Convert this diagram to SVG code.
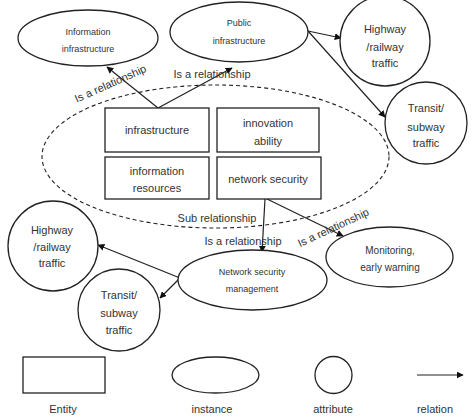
<svg xmlns="http://www.w3.org/2000/svg" width="474" height="420" viewBox="0 0 474 420">
<defs>
<marker id="ah" viewBox="0 0 10 10" refX="9" refY="5" markerWidth="7" markerHeight="7" markerUnits="userSpaceOnUse" orient="auto">
<path d="M0,0 L10,5 L0,10 z" fill="#111"/>
</marker>
<style>
.s{fill:#fff;stroke:#222;stroke-width:1.3}
.d{fill:none;stroke:#222;stroke-width:1.1;stroke-dasharray:4,3}
.c{stroke:#222;stroke-width:1.2;fill:none;marker-end:url(#ah)}
text{font-family:"Liberation Sans","DejaVu Sans",sans-serif;fill:#333;text-anchor:middle}
.t9{font-size:9px}
.t10{font-size:10px}
.t11{font-size:11px}
</style>
</defs>
<rect width="474" height="420" fill="#fff"/>
<ellipse class="d" cx="215.5" cy="156.5" rx="173.5" ry="71.5"/>
<g id="connectors">
<line class="c" x1="158" y1="108" x2="107" y2="67"/>
<line class="c" x1="158" y1="108" x2="232" y2="68"/>
<line class="c" x1="308" y1="31" x2="341" y2="38"/>
<line class="c" x1="308" y1="31" x2="385" y2="117"/>
<line class="c" x1="265" y1="199" x2="262" y2="252"/>
<line class="c" x1="267" y1="199" x2="343" y2="236"/>
<line class="c" x1="180" y1="278" x2="98" y2="245"/>
<line class="c" x1="180" y1="278" x2="160" y2="298"/>
<line class="c" x1="417" y1="375" x2="463" y2="375"/>
</g>
<g id="labels">
<text class="t11" transform="translate(112,87) rotate(-24)">Is a relationship</text>
<text class="t11" x="212" y="78">Is a relationship</text>
<text class="t11" x="217" y="222">Sub relationship</text>
<text class="t11" x="243" y="245">Is a relationship</text>
<text class="t11" transform="translate(335,231) rotate(-25)">Is a relationship</text>
</g>
<g id="info-infra">
<ellipse class="s" cx="88" cy="38" rx="70" ry="28"/>
<text class="t9" x="88" y="35">Information</text>
<text class="t9" x="88" y="52">infrastructure</text>
</g>
<g id="public-infra">
<ellipse class="s" cx="239" cy="32" rx="69" ry="30"/>
<text class="t9" x="239" y="26">Public</text>
<text class="t9" x="239" y="44">infrastructure</text>
</g>
<g id="highway-top">
<circle class="s" cx="385" cy="41" r="45"/>
<text class="t11" x="385" y="33">Highway</text>
<text class="t11" x="385" y="51">/railway</text>
<text class="t11" x="385" y="67">traffic</text>
</g>
<g id="transit-top">
<circle class="s" cx="426" cy="123" r="41"/>
<text class="t11" x="426" y="112">Transit/</text>
<text class="t11" x="426" y="131">subway</text>
<text class="t11" x="426" y="147">traffic</text>
</g>
<g id="box-infrastructure">
<rect class="s" x="105" y="108" width="104" height="44"/>
<text class="t11" x="157" y="134">infrastructure</text>
</g>
<g id="box-innovation">
<rect class="s" x="217" y="108" width="102" height="44"/>
<text class="t11" x="268" y="127">innovation</text>
<text class="t11" x="268" y="145">ability</text>
</g>
<g id="box-information">
<rect class="s" x="105" y="157" width="104" height="42"/>
<text class="t11" x="157" y="175">information</text>
<text class="t11" x="157" y="192">resources</text>
</g>
<g id="box-network">
<rect class="s" x="217" y="157" width="104" height="42"/>
<text class="t11" x="268" y="183">network security</text>
</g>
<g id="monitoring">
<ellipse class="s" cx="389.5" cy="257" rx="63.5" ry="30"/>
<text class="t10" x="390" y="254">Monitoring,</text>
<text class="t10" x="390" y="271">early warning</text>
</g>
<g id="net-sec-mgmt">
<ellipse class="s" cx="252.5" cy="280" rx="74.5" ry="30"/>
<text class="t9" x="252" y="275">Network security</text>
<text class="t9" x="252" y="292">management</text>
</g>
<g id="highway-left">
<circle class="s" cx="53" cy="246" r="45"/>
<text class="t11" x="52" y="234">Highway</text>
<text class="t11" x="52" y="251">/railway</text>
<text class="t11" x="52" y="267">traffic</text>
</g>
<g id="transit-left">
<circle class="s" cx="119" cy="310" r="41"/>
<text class="t11" x="119" y="299">Transit/</text>
<text class="t11" x="119" y="317">subway</text>
<text class="t11" x="119" y="334">traffic</text>
</g>
<g id="legend">
<rect class="s" x="23" y="357" width="82" height="36"/>
<ellipse class="s" cx="215.5" cy="375" rx="43.5" ry="18"/>
<circle class="s" cx="333.5" cy="375" r="18.5"/>
<text class="t11" x="63" y="413">Entity</text>
<text class="t11" x="212" y="413">instance</text>
<text class="t11" x="333" y="413">attribute</text>
<text class="t11" x="435" y="413">relation</text>
</g>
</svg>
